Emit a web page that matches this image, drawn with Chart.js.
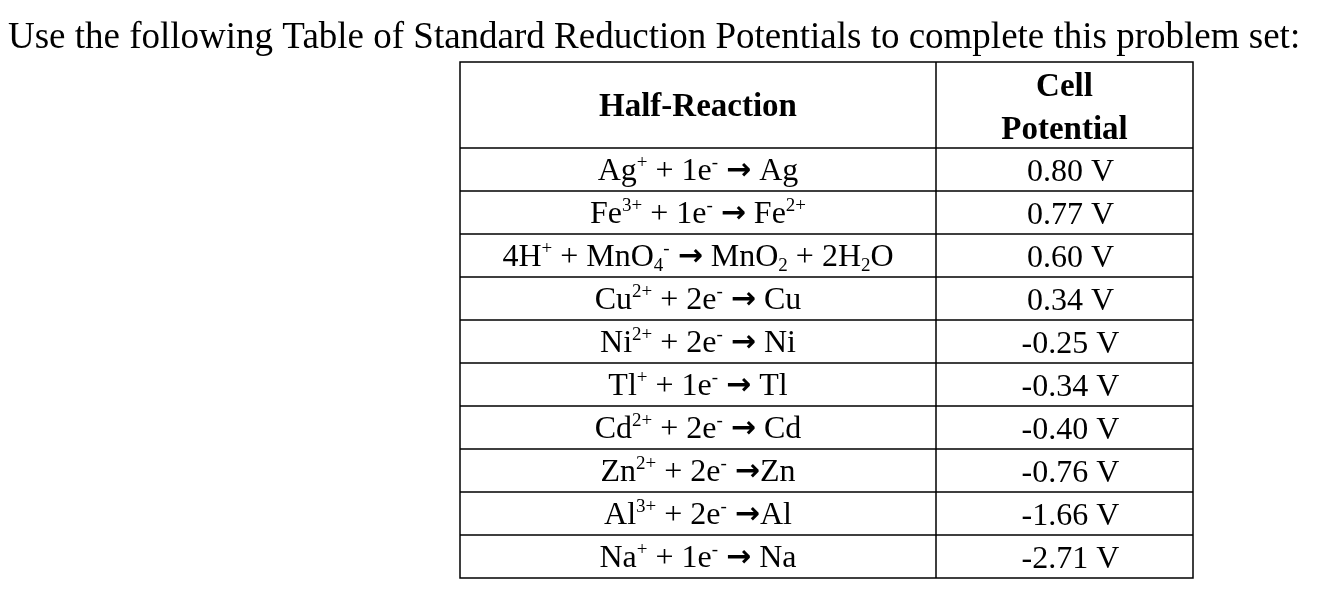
<!DOCTYPE html>
<html>
<head>
<meta charset="utf-8">
<script src="https://cdn.jsdelivr.net/npm/chart.js@4"></script>
<style>
  html, body { margin: 0; padding: 0; background: #fff; }
</style>
</head>
<body>
<canvas id="tbl" width="1340" height="602"></canvas>
<script>
// ^{..} superscript, _{..} subscript, → drawn as a heavier arrow
const title = 'Use the following Table of Standard Reduction Potentials to complete this problem set:';
const headers = ['Half-Reaction', 'Cell\nPotential'];
const reactions = [
    'Ag^{+} + 1e^{-} → Ag',
    'Fe^{3+} + 1e^{-} → Fe^{2+}',
    '4H^{+} + MnO_{4}^{-} → MnO_{2} + 2H_{2}O',
    'Cu^{2+} + 2e^{-} → Cu',
    'Ni^{2+} + 2e^{-} → Ni',
    'Tl^{+} + 1e^{-} → Tl',
    'Cd^{2+} + 2e^{-} → Cd',
    'Zn^{2+} + 2e^{-} →Zn',
    'Al^{3+} + 2e^{-} →Al',
    'Na^{+} + 1e^{-} → Na'
];
const potentials = [0.80, 0.77, 0.60, 0.34, -0.25, -0.34, -0.40, -0.76, -1.66, -2.71];

const FONT = '"Liberation Serif", "Times New Roman", serif';

function parse(str) {
    const segs = [];
    const re = /([\^_])\{([^}]*)\}|→/g;
    let last = 0, m;
    while ((m = re.exec(str))) {
        if (m.index > last) segs.push({ t: str.slice(last, m.index), k: 'n' });
        if (m[0] === '→') segs.push({ t: '→', k: 'arrow' });
        else segs.push({ t: m[2], k: m[1] === '^' ? 'sup' : 'sub' });
        last = re.lastIndex;
    }
    if (last < str.length) segs.push({ t: str.slice(last), k: 'n' });
    return segs;
}

function fontFor(k, size) {
    if (k === 'arrow') return 'bold ' + Math.round(size * 0.95) + 'px "DejaVu Sans"';
    if (k === 'n') return size + 'px ' + FONT;
    return Math.round(size * 0.6) + 'px ' + FONT;
}

function drawRich(ctx, str, cx, cy, size) {
    const segs = parse(str);
    let total = 0;
    segs.forEach(s => {
        ctx.font = fontFor(s.k, size);
        s.w = ctx.measureText(s.t).width;
        total += s.w;
    });
    let x = cx - total / 2;
    ctx.textBaseline = 'alphabetic';
    ctx.textAlign = 'left';
    const base = cy + size * 0.33;
    segs.forEach(s => {
        ctx.font = fontFor(s.k, size);
        let y = base;
        if (s.k === 'sup') y = base - size * 0.38;
        if (s.k === 'sub') y = base + size * 0.15;
        if (s.k === 'arrow') y = base - size * 0.02;
        ctx.fillText(s.t, x, y);
        x += s.w;
    });
}

const tablePlugin = {
    id: 'tablePlugin',
    afterDraw(chart) {
        const ctx = chart.ctx;
        const xs = chart.scales.x, ys = chart.scales.y;
        const left = xs.getPixelForValue(460), mid = xs.getPixelForValue(936), right = xs.getPixelForValue(1193);
        const top = ys.getPixelForValue(62), headBottom = ys.getPixelForValue(148);
        const rowH = (ys.getPixelForValue(578) - headBottom) / reactions.length;

        ctx.save();
        ctx.fillStyle = '#000';
        ctx.font = '37px ' + FONT;
        ctx.textAlign = 'left';
        ctx.textBaseline = 'alphabetic';
        ctx.fillText(title, xs.getPixelForValue(8), ys.getPixelForValue(48));

        // grid
        ctx.strokeStyle = '#000';
        ctx.lineWidth = 1.5;
        ctx.beginPath();
        ctx.rect(left, top, right - left, headBottom + rowH * reactions.length - top);
        ctx.moveTo(mid, top); ctx.lineTo(mid, headBottom + rowH * reactions.length);
        for (let i = 0; i < reactions.length; i++) {
            const y = headBottom + rowH * i;
            ctx.moveTo(left, y); ctx.lineTo(right, y);
        }
        ctx.stroke();

        // headers
        ctx.textAlign = 'center';
        ctx.font = 'bold 33px ' + FONT;
        ctx.fillText(headers[0], (left + mid) / 2, (top + headBottom) / 2 + 11);
        const hl = headers[1].split('\n');
        ctx.fillText(hl[0], (mid + right) / 2, top + 34);
        ctx.fillText(hl[1], (mid + right) / 2, top + 77);

        // rows
        reactions.forEach((r, i) => {
            const cy = headBottom + rowH * (i + 0.5);
            drawRich(ctx, r, (left + mid) / 2, cy, 32);
            ctx.font = '32px ' + FONT;
            ctx.textAlign = 'center';
            ctx.fillText(potentials[i].toFixed(2) + ' V', (mid + right) / 2 + 6, cy + 11);
        });
        ctx.restore();
    }
};

new Chart(document.getElementById('tbl'), {
    type: 'scatter',
    data: { datasets: [{ data: [], pointRadius: 0 }] },
    options: {
        responsive: false,
        animation: false,
        layout: { padding: 0 },
        plugins: { legend: { display: false }, tooltip: { enabled: false } },
        scales: {
            x: { type: 'linear', min: 0, max: 1340, display: false },
            y: { type: 'linear', min: 0, max: 602, reverse: true, display: false }
        }
    },
    plugins: [tablePlugin]
});
</script>
</body>
</html>
